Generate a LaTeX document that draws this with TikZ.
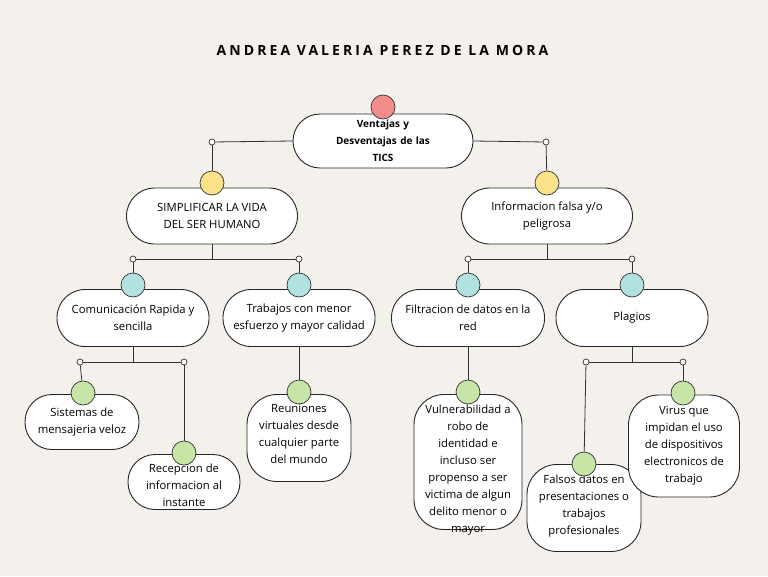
\documentclass[tikz,border=0pt]{standalone}
\usepackage{fontspec}
\setmainfont{Open Sans}
\begin{document}
\begin{tikzpicture}[x=1pt,y=-1pt,
  box/.style={draw=black!85,fill=white,line width=0.9pt,align=center,font=\fontsize{11.3}{17}\selectfont,inner sep=1pt},
  txt/.style={align=center,font=\fontsize{11.3}{17}\selectfont,inner sep=0pt},
  dot/.style={circle,draw=black!80,line width=0.7pt,fill=white,inner sep=0pt,minimum size=6pt},
  big/.style={circle,draw=black!80,line width=0.7pt,inner sep=0pt,minimum size=24pt},
  ln/.style={draw=black!80,line width=0.8pt}]
\definecolor{bg}{HTML}{F4F0EB}
\definecolor{cred}{HTML}{F48C8C}
\definecolor{cyel}{HTML}{FCE38A}
\definecolor{cteal}{HTML}{B2E2E0}
\definecolor{cgreen}{HTML}{C6E5A6}
\fill[bg] (0,0) rectangle (768,576);
\useasboundingbox (0,0) rectangle (768,576);
\node (title) at (384,50) {\fontsize{14}{16}\selectfont\addfontfeature{LetterSpace=22}\textbf{ANDREA VALERIA PEREZ DE LA MORA}};
% boxes
\node[box,minimum width=180pt,minimum height=54pt,rounded corners=27pt,text width=120pt,font=\bfseries\fontsize{10}{17}\selectfont] (root) at (383,141) {Ventajas y\\ Desventajas de las\\ TICS};
\node[box,minimum width=171pt,minimum height=56pt,rounded corners=28pt] (l1) at (212,216) {SIMPLIFICAR LA VIDA\\ DEL SER HUMANO};
\node[box,minimum width=171pt,minimum height=56pt,rounded corners=28pt] (r1) at (547,216) {Informacion falsa y/o\\ peligrosa};
\node[box,minimum width=152pt,minimum height=57pt,rounded corners=28pt] (com) at (133,318) {Comunicación Rapida y\\ sencilla};
\node[box,minimum width=152pt,minimum height=57pt,rounded corners=28pt] (tra) at (299,318) {Trabajos con menor\\ esfuerzo y mayor calidad};
\node[box,minimum width=153pt,minimum height=57pt,rounded corners=28pt] (fil) at (468,318) {Filtracion de datos en la\\ red};
\node[box,minimum width=152pt,minimum height=57pt,rounded corners=28pt] (pla) at (632,318) {Plagios};
\node[box,minimum width=114pt,minimum height=55pt,rounded corners=27pt] (sis) at (82,422) {Sistemas de\\ mensajeria veloz};
\node[box,minimum width=112pt,minimum height=55pt,rounded corners=27pt] (rec) at (184,482) {};
\node[txt] (rect) at (184,485) {Recepcion de\\ informacion al\\ instante};
\node[box,minimum width=104pt,minimum height=87pt,rounded corners=30pt] (reu) at (299,438) {};
\node[txt] (reut) at (299,434) {Reuniones\\ virtuales desde\\ cualquier parte\\ del mundo};
\node[box,minimum width=108pt,minimum height=135pt,rounded corners=30pt] (vul) at (468,462) {};
\node[txt] (vult) at (468,470) {Vulnerabilidad a\\ robo de\\ identidad e\\ incluso ser\\ propenso a ser\\ victima de algun\\ delito menor o\\ mayor};
\node[box,minimum width=114pt,minimum height=87pt,rounded corners=30pt] (fal) at (584,508) {};
\node[txt] (falt) at (584,506) {Falsos datos en\\ presentaciones o\\ trabajos\\ profesionales};
\node[box,minimum width=111pt,minimum height=102pt,rounded corners=30pt] (vir) at (684,446) {};
\node[txt] (virt) at (684,446) {Virus que\\ impidan el uso\\ de dispositivos\\ electronicos de\\ trabajo};
% colored circles
\node[big,fill=cred] (croot) at (383,107) {};
\node[big,fill=cyel] (cl1) at (212,183) {};
\node[big,fill=cyel] (cr1) at (547,183) {};
\node[big,fill=cteal] (ccom) at (133,285) {};
\node[big,fill=cteal] (ctra) at (299,285) {};
\node[big,fill=cteal] (cfil) at (468,285) {};
\node[big,fill=cteal] (cpla) at (632,285) {};
\node[big,fill=cgreen] (csis) at (83,393) {};
\node[big,fill=cgreen] (crec) at (184,453) {};
\node[big,fill=cgreen] (creu) at (299,392) {};
\node[big,fill=cgreen] (cvul) at (468,392) {};
\node[big,fill=cgreen] (cfal) at (584,464) {};
\node[big,fill=cgreen] (cvir) at (683,393) {};
% small dots
\node[dot] (d1) at (212,142) {};
\node[dot] (d2) at (546,142) {};
\node[dot] (d3) at (133,259) {};
\node[dot] (d4) at (299,259) {};
\node[dot] (d5) at (468,259) {};
\node[dot] (d6) at (632,259) {};
\node[dot] (d7) at (80,362) {};
\node[dot] (d8) at (184,362) {};
\node[dot] (d9) at (586,362) {};
\node[dot] (d10) at (683,362) {};
\coordinate (h1) at (212,259);
\coordinate (h2) at (547,259);
\coordinate (h3) at (133,362);
\coordinate (h4) at (632,362);
% connectors
\draw[ln] (root.west) -- (d1);
\draw[ln] (root.east) -- (d2);
\draw[ln] (d1) -- (cl1);
\draw[ln] (d2) -- (cr1);
\draw[ln] (l1.south) -- (h1);
\draw[ln] (d3) -- (d4);
\draw[ln] (d3) -- (ccom);
\draw[ln] (d4) -- (ctra);
\draw[ln] (r1.south) -- (h2);
\draw[ln] (d5) -- (d6);
\draw[ln] (d5) -- (cfil);
\draw[ln] (d6) -- (cpla);
\draw[ln] (com.south) -- (h3);
\draw[ln] (d7) -- (d8);
\draw[ln] (d7) -- (csis);
\draw[ln] (d8) -- (crec);
\draw[ln] (tra.south) -- (creu);
\draw[ln] (fil.south) -- (cvul);
\draw[ln] (pla.south) -- (h4);
\draw[ln] (d9) -- (d10);
\draw[ln] (d9) -- (cfal);
\draw[ln] (d10) -- (cvir);
\end{tikzpicture}
\end{document}
